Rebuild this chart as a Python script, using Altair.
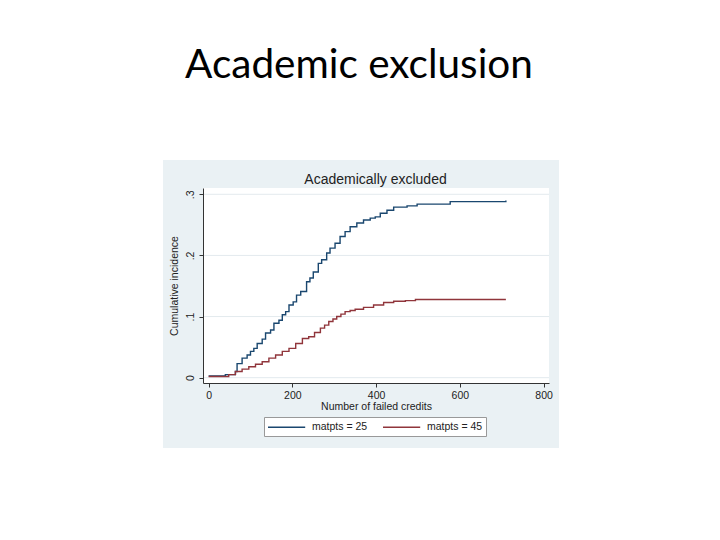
import altair as alt
import pandas as pd

# ---- data ----
blue_x = [0, 40, 64, 68, 80, 92, 100, 108, 116, 128, 136, 148, 156, 168, 176, 184, 192, 202,
          210, 220, 234, 242, 250, 262, 270, 282, 290, 302, 314, 326, 338, 354, 370, 386,
          398, 410, 426, 442, 474, 498, 577, 710]
blue_y = [0.003, 0.005, 0.010, 0.023, 0.032, 0.037, 0.043, 0.048, 0.056, 0.063, 0.073, 0.078,
          0.089, 0.094, 0.103, 0.108, 0.119, 0.124, 0.135, 0.141, 0.157, 0.163, 0.173, 0.187,
          0.193, 0.204, 0.212, 0.220, 0.231, 0.239, 0.247, 0.253, 0.258, 0.261, 0.263, 0.269,
          0.274, 0.279, 0.281, 0.284, 0.288, 0.290]

red_x = [0, 48, 64, 80, 96, 112, 128, 144, 160, 176, 192, 208, 224, 239, 253, 267, 277, 287,
         297, 306, 316, 326, 338, 350, 370, 394, 418, 442, 470, 494, 580, 710]
red_y = [0.002, 0.005, 0.010, 0.014, 0.018, 0.022, 0.026, 0.032, 0.037, 0.043, 0.048, 0.056,
         0.064, 0.067, 0.074, 0.081, 0.086, 0.092, 0.096, 0.100, 0.104, 0.108, 0.110, 0.112,
         0.115, 0.119, 0.123, 0.125, 0.126, 0.128, 0.128, 0.128]

groups = ["matpts = 25", "matpts = 45"]
colors = ["#1a476f", "#90353b"]
x_ticks = [0, 200, 400, 600, 800]
y_ticks = [0, 0.1, 0.2, 0.3]

slide_title = "Academic exclusion"
plot_title = "Academically excluded"
x_title = "Number of failed credits"
y_title = "Cumulative incidence"

W, H = 346, 195

df = pd.concat([
    pd.DataFrame({"credits": blue_x, "ci": blue_y, "group": groups[0]}),
    pd.DataFrame({"credits": red_x, "ci": red_y, "group": groups[1]}),
])
grid_df = pd.DataFrame({"ci": y_ticks})
one = pd.DataFrame({"a": [0]})

x_scale = alt.Scale(domain=[-13.4, 813], nice=False, zero=False)
y_scale = alt.Scale(domain=[-0.0087, 0.3103], nice=False, zero=False)

label_expr = "datum.value == 0 ? '0' : replace(format(datum.value, '.1f'), '0.', '.')"

x_axis = alt.Axis(values=x_ticks, title=x_title, grid=False, zindex=1,
                  labelFont="Liberation Sans", titleFont="Liberation Sans",
                  labelFontSize=10.5, titleFontSize=10.5, titleFontWeight="normal",
                  labelColor="#222", titleColor="#222", domainColor="#333",
                  tickColor="#333", tickSize=4, labelPadding=3, titlePadding=1,
                  format="d")
y_axis = alt.Axis(values=y_ticks, title=y_title, grid=False, zindex=1,
                  labelExpr=label_expr, labelAngle=270, labelAlign="center",
                  labelBaseline="bottom",
                  labelFont="Liberation Sans", titleFont="Liberation Sans",
                  labelFontSize=10.5, titleFontSize=10.5, titleFontWeight="normal",
                  labelColor="#222", titleColor="#222", domainColor="#333",
                  tickColor="#333", tickSize=4, labelPadding=4, titlePadding=6)

bg = alt.Chart(one).mark_rect(color="#eaf1f4").encode(
    x=alt.value(-40), x2=alt.value(356), y=alt.value(-28), y2=alt.value(260))
plot_bg = alt.Chart(one).mark_rect(color="white").encode(
    x=alt.value(0), x2=alt.value(W), y=alt.value(0), y2=alt.value(H))

grid = alt.Chart(grid_df).mark_rule(color="#e3eaee", strokeWidth=1).encode(
    y=alt.Y("ci:Q", scale=y_scale, axis=y_axis),
    x=alt.value(0), x2=alt.value(W))

lines = alt.Chart(df).mark_line(interpolate="step-after", strokeWidth=1.4).encode(
    x=alt.X("credits:Q", scale=x_scale, axis=x_axis),
    y=alt.Y("ci:Q", scale=y_scale, axis=y_axis),
    color=alt.Color("group:N", scale=alt.Scale(domain=groups, range=colors),
                    legend=alt.Legend(title=None, orient="none", legendX=61, legendY=229,
                                      direction="horizontal", symbolType="M-1,0H5.2",
                                      symbolSize=144, symbolStrokeWidth=1.5,
                                      symbolFillColor="transparent",
                                      labelFont="Liberation Sans", labelFontSize=10.5,
                                      labelColor="#222", columnPadding=12,
                                      fillColor="white", strokeColor="#999",
                                      padding=3, labelOffset=31)),
)

t_slide = alt.Chart(one).mark_text(font="Lato", fontSize=40.5, color="black",
                                   baseline="alphabetic", align="center").encode(
    x=alt.value(156), y=alt.value(-110), text=alt.value(slide_title))
t_plot = alt.Chart(one).mark_text(font="Liberation Sans", fontSize=14, color="#222",
                                  baseline="alphabetic", align="center").encode(
    x=alt.value(172.5), y=alt.value(-4), text=alt.value(plot_title))

chart = alt.layer(bg, plot_bg, grid, lines, t_slide, t_plot).properties(
    width=W, height=H,
    autosize=alt.AutoSizeParams(type="none"),
    padding={"left": 195, "top": 180, "right": 160, "bottom": 140},
).configure_view(stroke=None)

chart.save("out.html", embed_options={"renderer": "svg", "actions": False})
